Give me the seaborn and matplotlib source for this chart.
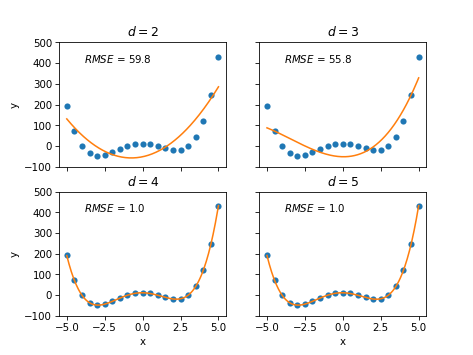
import numpy as np
import matplotlib
matplotlib.use("Agg")
import matplotlib.pyplot as plt
import seaborn as sns

# datos
x_vals = [-5.0, -4.5, -4.0, -3.5, -3.0, -2.5, -2.0, -1.5, -1.0, -0.5, 0.0,
          0.5, 1.0, 1.5, 2.0, 2.5, 3.0, 3.5, 4.0, 4.5, 5.0]
y_vals = [192, 71, 0, -36, -48, -43, -30, -13, -1, 9, 12,
          9, -1, -10, -19, -17, -1, 43, 121, 246, 432]
degrees = [2, 3, 4, 5]
rmse_labels = ["59.8", "55.8", "1.0", "1.0"]

x = np.array(x_vals)
y = np.array(y_vals)
x_fine = np.linspace(-5, 5, 200)

fig, axes = plt.subplots(2, 2, figsize=(6.4, 4.8), sharex=True, sharey=True)

for ax, d, rmse in zip(axes.flat, degrees, rmse_labels):
    coefs = np.polyfit(x, y, d)
    sns.scatterplot(x=x, y=y, ax=ax, color="C0", s=36, linewidth=0, zorder=2)
    sns.lineplot(x=x_fine, y=np.polyval(coefs, x_fine), ax=ax, color="C1",
                 linewidth=1.5, zorder=3)
    ax.set_title(f"$d = {d}$")
    ax.text(0.15, 0.87, f"$RMSE$ = {rmse}", transform=ax.transAxes, va="center")
    ax.set_ylim(-100, 500)
    ax.set_yticks(range(-100, 501, 100))
    ax.set_xlabel("")
    ax.set_ylabel("")

for ax in axes[1]:
    ax.set_xlabel("x")
for ax in axes[:, 0]:
    ax.set_ylabel("y")

plt.savefig("out.png", dpi=74)
